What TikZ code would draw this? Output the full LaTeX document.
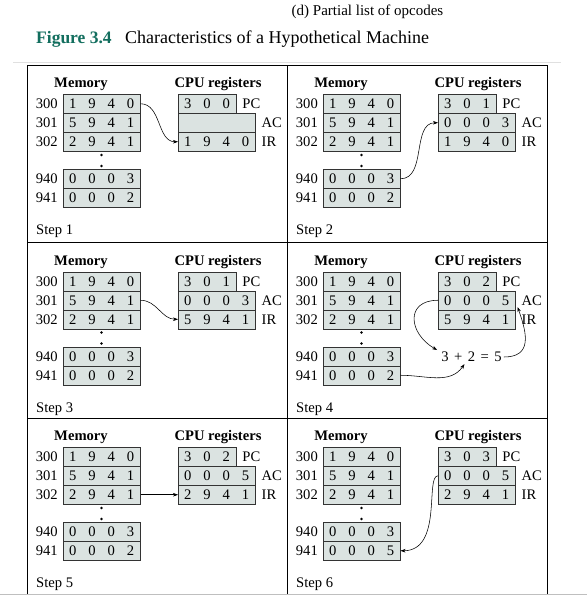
\documentclass[tikz,border=0pt]{standalone}
\usepackage{fontspec}
\setmainfont{Liberation Serif}
\usepackage{tikz}
\usetikzlibrary{arrows.meta}

\definecolor{cellfill}{RGB}{219,227,225}
\definecolor{figteal}{RGB}{18,110,94}
\newcommand{\panelfont}{\fontsize{14.6}{17}\selectfont}
\newcommand{\fourdg}[4]{\hbox to 77pt{\hfil#1\hfil\hfil#2\hfil\hfil#3\hfil\hfil#4\hfil}}
\newcommand{\threedg}[3]{\hbox to 57.75pt{\hfil#1\hfil\hfil#2\hfil\hfil#3\hfil}}

\tikzset{
  cell/.style={draw=black!80, line width=0.5pt, fill=cellfill, minimum width=#1,
    minimum height=19pt, inner sep=0pt, anchor=north west, font=\panelfont},
  cell/.default=77pt,
  head/.style={font=\panelfont\bfseries, inner sep=0pt},
  txt/.style={font=\panelfont, inner sep=0pt},
  flow/.style={-{Stealth[length=5pt,width=3.6pt]}, line width=0.55pt},
  frame/.style={line width=0.9pt}
}

% one step of the fetch/execute example
% #1 prefix, #2 top left corner, #3 step, #4 PC, #5 AC, #6 IR, #7 word 941
\newcommand{\steppanel}[7]{%
  \begin{scope}[shift={#2}, name prefix=#1-]
    \node[head, anchor=base] (memhd) at (53.5,-22.5) {Memory};
    \node[head, anchor=base] (cpuhd) at (190.5,-22.5) {CPU registers};
    \node[cell] (m300) at (35.5,-29) {\fourdg 1940};
    \node[cell] (m301) at (35.5,-48) {\fourdg 5941};
    \node[cell] (m302) at (35.5,-67) {\fourdg 2941};
    \node[cell] (m940) at (35.5,-104) {\fourdg 0003};
    \node[cell] (m941) at (35.5,-123) {#7};
    \foreach \a in {300,301,302,940,941}
      \node[txt, anchor=east] (a\a) at ([xshift=-5pt]m\a.west) {\a};
    \fill (74,-90) circle (1.3pt) (74,-101) circle (1.3pt);
    \node[cell=57.75pt] (pc) at (150.5,-29) {#4};
    \node[cell] (ac) at (150.5,-48) {#5};
    \node[cell] (ir) at (150.5,-67) {#6};
    \node[txt, anchor=west] (pclbl) at ([xshift=6pt]pc.east) {PC};
    \node[txt, anchor=west] (aclbl) at ([xshift=6pt]ac.east) {AC};
    \node[txt, anchor=west] (irlbl) at ([xshift=6pt]ir.east) {IR};
    \node[txt, anchor=base west] (steplbl) at (8.5,-169.5) {Step #3};
  \end{scope}}

\begin{document}
\begin{tikzpicture}[x=1pt, y=1pt]
  \fill[white] (0,0) rectangle (587,-598);
  \useasboundingbox (0,0) rectangle (587,-598);
  % captions
  \node[font=\fontsize{15}{18}\selectfont, anchor=base, inner sep=0pt] (sub) at (367.5,-15) {(d) Partial list of opcodes};
  \node[font=\fontsize{17.5}{20}\selectfont\bfseries, text=figteal, anchor=base west, inner sep=0pt] (fig) at (36,-43) {Figure 3.4};
  \node[font=\fontsize{18}{21}\selectfont, anchor=base west, inner sep=0pt] (title) at (125,-43) {Characteristics of a Hypothetical Machine};
  % frame
  \draw[black!12, line width=0.8pt] (13,-62.5) -- (561,-62.5);
  \draw[frame] (27.5,-593.5) -- (27.5,-65) -- (547.5,-65) -- (547.5,-593.5);
  \draw[frame] (287.5,-65) -- (287.5,-593.5);
  \draw[frame] (27.5,-242.5) -- (547.5,-242.5);
  \draw[frame] (27.5,-418) -- (547.5,-418);
  \draw[black!25, line width=1pt] (0,-594.5) -- (587,-594.5);
  % the six steps
  \steppanel{p1}{(27.5,-65)}{1}{\threedg 300}{}{\fourdg 1940}{\fourdg 0002}
  \steppanel{p2}{(287.5,-65)}{2}{\threedg 301}{\fourdg 0003}{\fourdg 1940}{\fourdg 0002}
  \steppanel{p3}{(27.5,-242.5)}{3}{\threedg 301}{\fourdg 0003}{\fourdg 5941}{\fourdg 0002}
  \steppanel{p4}{(287.5,-242.5)}{4}{\threedg 302}{\fourdg 0005}{\fourdg 5941}{\fourdg 0002}
  \steppanel{p5}{(27.5,-418)}{5}{\threedg 302}{\fourdg 0005}{\fourdg 2941}{\fourdg 0002}
  \steppanel{p6}{(287.5,-418)}{6}{\threedg 303}{\fourdg 0005}{\fourdg 2941}{\fourdg 0005}
  \node[txt, inner sep=2pt] (p4-sum) at (471.5,-357) {3\kern5.5pt+\kern5.5pt2\kern5.5pt=\kern5.5pt5};
  % data movement
  \draw[flow] (p1-m300.east) to[out=0, in=180] (p1-ir.west);
  \draw[flow] (p2-m940.east) to[out=0, in=180] (p2-ac.west);
  \draw[flow] (p3-m301.east) to[out=0, in=180] (p3-ir.west);
  \draw[flow] (p4-ac.west) to[out=180, in=150, looseness=1.7] ([shift={(-2pt,7pt)}]p4-sum.west);
  \draw[flow] (p4-m941.east) to[out=0, in=235] ([xshift=-7pt]p4-sum.south);
  \draw[flow] (p4-sum.east) to[out=0, in=-70, looseness=1.4] ([shift={(2pt,3pt)}]p4-ac.south east);
  \draw[flow] (p5-m302.east) -- (p5-ir.west);
  \draw[flow] (p6-ac.west) to[out=180, in=0, out looseness=0.4, in looseness=1.3] (p6-m941.east);
\end{tikzpicture}
\end{document}
